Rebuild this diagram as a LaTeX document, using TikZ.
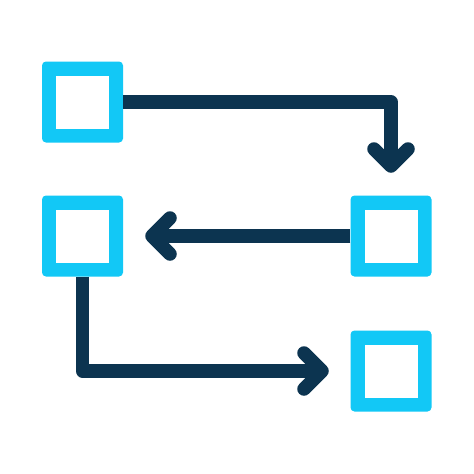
\documentclass[tikz,border=0pt]{standalone}
\definecolor{sqcyan}{RGB}{18,200,246}
\definecolor{navy}{RGB}{12,52,80}
\tikzset{
  sq/.style={minimum size=81pt, inner sep=0pt, fill=sqcyan, rounded corners=4pt,
    path picture={\fill[white, sharp corners] ([shift={(14pt,14pt)}]path picture bounding box.south west) rectangle ([shift={(-14pt,-14pt)}]path picture bounding box.north east);}},
  conn/.style={draw=navy, line width=13.5pt, line join=round},
  chev/.style={draw=navy, line width=13.5pt, line join=round, line cap=round}
}
\begin{document}
\begin{tikzpicture}[x=1pt,y=-1pt]
\useasboundingbox (0,0) rectangle (474,474);
\fill[white] (0,0) rectangle (474,474);
\node[sq] (a) at (82.5,102) {};
\node[sq] (b) at (82.5,236) {};
\node[sq] (c) at (391,236) {};
\node[sq] (d) at (391,371) {};
\coordinate (t1) at (391,166);
\coordinate (t2) at (152,236);
\coordinate (t3) at (322,371);
\draw[conn] (a.east) -- (391,102) -- (t1);
\draw[chev] ([shift={(-17,-17)}]t1) -- (t1) -- ([shift={(17,-17)}]t1);
\draw[conn] (c.west) -- (t2);
\draw[chev] ([shift={(18,-18)}]t2) -- (t2) -- ([shift={(18,18)}]t2);
\draw[conn] (b.south) -- (82.5,371) -- (t3);
\draw[chev] ([shift={(-18,-18)}]t3) -- (t3) -- ([shift={(-18,18)}]t3);
\end{tikzpicture}
\end{document}
